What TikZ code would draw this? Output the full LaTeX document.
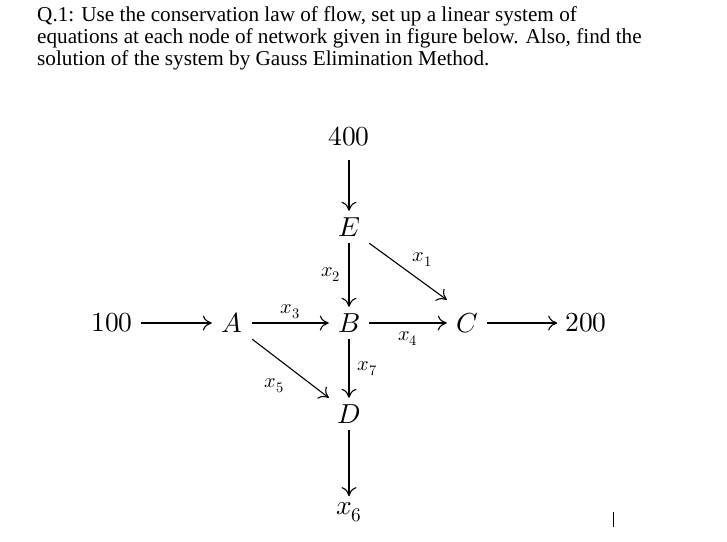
\documentclass[tikz,border=0pt]{standalone}
\usepackage{fontspec}
\setmainfont{Liberation Serif}
\usepackage{unicode-math}
\setmathfont{Latin Modern Math}
\usetikzlibrary{arrows.meta,positioning}

\tikzset{
  vtx/.style={minimum width=40pt,minimum height=32pt,inner sep=0pt,
    font=\fontsize{27.5}{30}\selectfont},
  num/.style={inner xsep=8pt,inner ysep=4pt,font=\fontsize{27.5}{30}\selectfont},
  lab/.style={inner sep=4pt,font=\fontsize{29}{30}\selectfont},
  edge/.style={line width=1.1pt,-{To[length=9pt,width=15pt]}},
  txt/.style={anchor=base west,inner sep=0pt,font=\fontsize{21.2}{22.5}\selectfont}
}

\begin{document}
\begin{tikzpicture}[x=1pt,y=1pt,node distance=1pt and 1pt,on grid]
    \useasboundingbox (0,0) rectangle (727,541);
    % question
    \node[txt] (t1) at (37,519) {Q.1: Use the conservation law of flow, set up a linear system of};
    \node[txt] (t2) at (37,497) {equations at each node of network given in figure below. Also, find the};
    \node[txt] (t3) at (37,475) {solution of the system by Gauss Elimination Method.};
    % network
    \node[vtx] (B) at (349,218) {$B$};
    \node[vtx,left=117 of B] (A) {$A$};
    \node[vtx,right=118 of B] (C) {$C$};
    \node[vtx,above=96 of B] (E) {$E$};
    \node[vtx,below=91 of B] (D) {$D$};
    \node[num,left=120 of A] (in) {$100$};
    \node[num,right=119 of C] (out) {$200$};
    \node[num,above=91 of E,inner ysep=14pt] (top) {$400$};
    \node[num,below=98 of D,inner ysep=6pt] (x6) {$x_6$};
    \draw[edge] (in) -- (A);
    \draw[edge] (A) -- node[lab,above] (l3) {$\scriptstyle x_3$} (B);
    \draw[edge] (B) -- node[lab,below,inner ysep=8pt] (l4) {$\scriptstyle x_4$} (C);
    \draw[edge] (C) -- (out);
    \draw[edge] (top) -- (E);
    \draw[edge] (E) -- node[lab,left,inner xsep=8pt] (l2) {$\scriptstyle x_2$} (B);
    \draw[edge] (B) -- node[lab,right,inner xsep=8pt] (l7) {$\scriptstyle x_7$} (D);
    \draw[edge] (D) -- (x6);
    \draw[edge] (E.south east) -- node[lab,above right] (l1) {$\scriptstyle x_1$} ([yshift=7pt]C.north west);
    \draw[edge] (A.south east) -- node[lab,below left,inner xsep=6pt,inner ysep=9pt] (l5) {$\scriptstyle x_5$} (D.north west);
    % cursor
    \draw[line width=1pt] (613,29) -- (613,14);
\end{tikzpicture}
\end{document}
